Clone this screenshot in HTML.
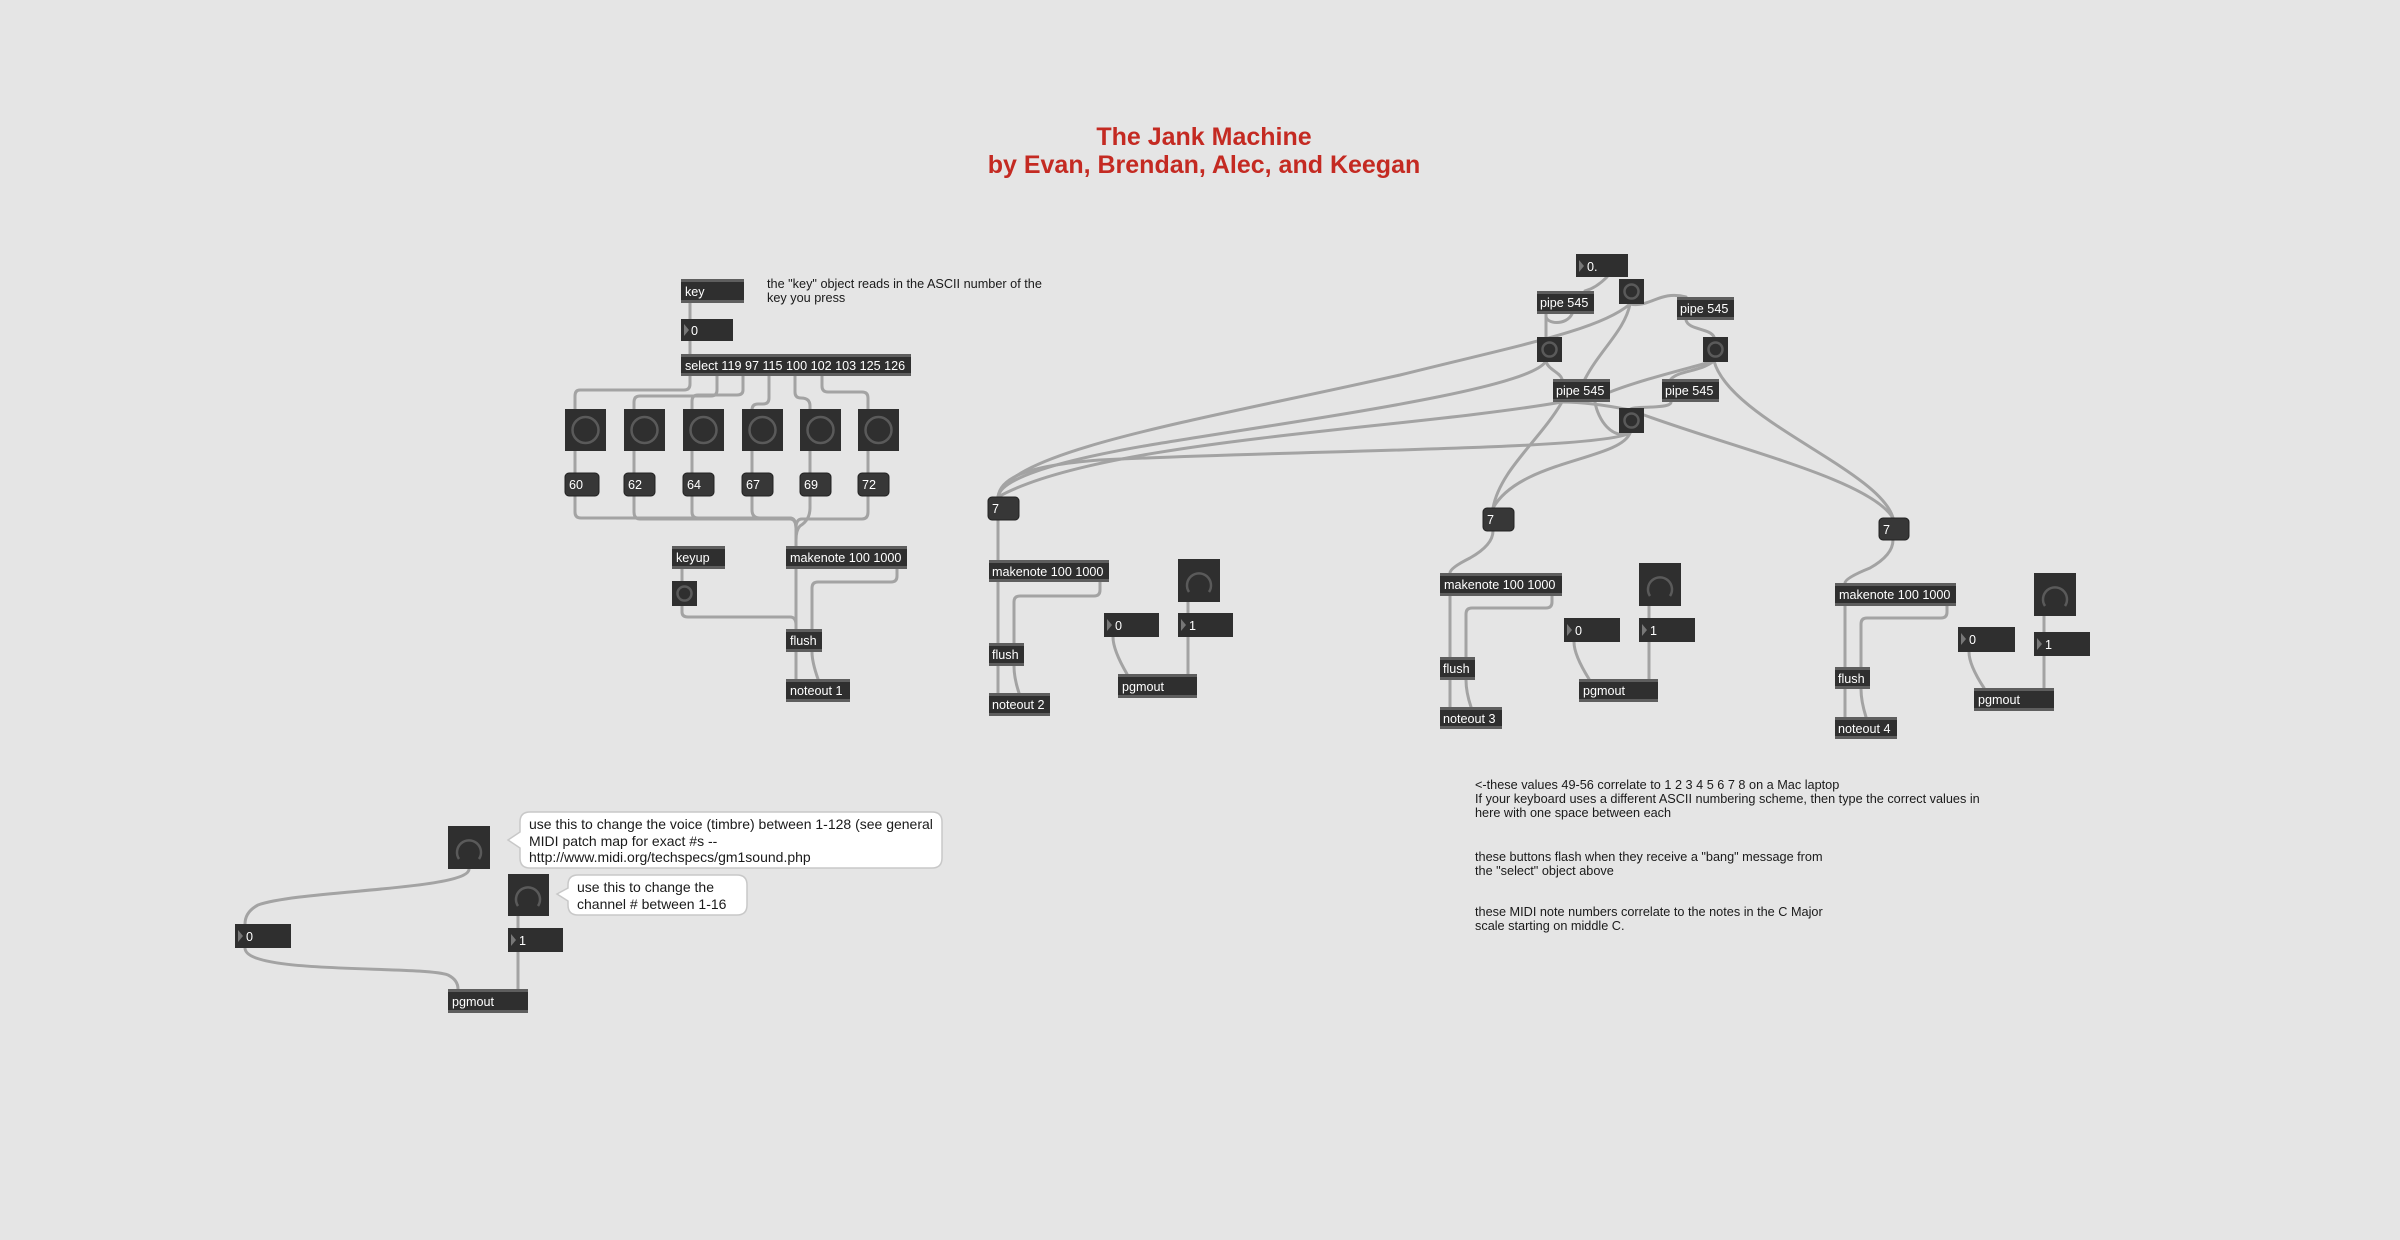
<!DOCTYPE html>
<html><head><meta charset="utf-8"><style>
html,body{margin:0;padding:0;background:#e5e5e5;}
svg{display:block;font-family:"Liberation Sans",Arial,sans-serif;}
.o{fill:#2f2f2f}
.b{fill:#5e5e5e}
.t{fill:#fff;font-size:12.6px}
.c{fill:#1a1a1a;font-size:12.7px}
.w{fill:none;stroke:#a3a3a3;stroke-width:3;stroke-linecap:round}
.r{fill:none;stroke:#5a5a5a;stroke-width:2.5}
.m{fill:#373737;stroke:#222;stroke-width:1}
.tri{fill:#777}
</style></head><body>
<svg width="2400" height="1240" viewBox="0 0 2400 1240" xmlns="http://www.w3.org/2000/svg">
<rect width="2400" height="1240" fill="#e5e5e5"/>
<text x="1204" y="145" text-anchor="middle" font-weight="bold" font-size="25" fill="#c42a22">The Jank Machine</text>
<text x="1204" y="173" text-anchor="middle" font-weight="bold" font-size="25" fill="#c42a22">by Evan, Brendan, Alec, and Keegan</text>

<g class="w">
<path d="M690 303 V319"/>
<path d="M690 341 V354"/>
<path d="M690 376 V384 Q690 390 684 390 H580 Q575 390 575 396 V409"/>
<path d="M717 376 V390 Q717 396 711 396 H640 Q634 396 634 402 V409"/>
<path d="M743 376 V390 Q743 395 737 395 H698 Q692 395 692 401 V409"/>
<path d="M769 376 V398 Q769 404 763 404 H758 Q752 404 752 410"/>
<path d="M795 376 V392 Q795 398 801 398 Q810 398 810 406 V409"/>
<path d="M822 376 V386 Q822 392 828 392 H862 Q868 392 868 398 V409"/>
<path d="M575 451 V473"/><path d="M634 451 V473"/><path d="M692 451 V473"/>
<path d="M752 451 V473"/><path d="M810 451 V473"/><path d="M868 451 V473"/>
<path d="M575 496 V512 Q575 518 581 518 H790 Q796 518 796 528 V546"/>
<path d="M634 496 V512 Q634 519 640 519 H790 Q796 519 796 528"/>
<path d="M692 496 V512 Q692 518 698 518 H790"/>
<path d="M752 496 V510 Q752 518 760 518 H788 Q796 518 796 528"/>
<path d="M810 496 V508 Q810 520 800 526 Q796 530 796 540"/>
<path d="M868 496 V512 Q868 519 862 519 H802 Q796 519 796 528"/>
<path d="M682 569 V581"/>
<path d="M682 606 V612 Q682 617 688 617 H790 Q796 617 796 625 V629"/>
<path d="M796 569 V629"/>
<path d="M897 569 V576 Q897 582 891 582 H818 Q812 582 812 588 V629"/>
<path d="M796 652 V679"/>
<path d="M812 652 Q812 662 818 679"/>
<path d="M998 520 V560"/>
<path d="M998 582 V643"/>
<path d="M1100 582 V590 Q1100 596 1094 596 H1020 Q1014 596 1014 602 V643"/>
<path d="M998 666 V693"/>
<path d="M1014 666 Q1014 678 1019 693"/>
<path d="M1113 637 Q1113 650 1127 674"/>
<path d="M1188 602 V613"/><path d="M1188 637 V674"/>
<path d="M1493 531 Q1493 545 1470 558 Q1450 568 1450 573"/>
<path d="M1450 596 V657"/>
<path d="M1552 596 V602 Q1552 608 1546 608 H1472 Q1466 608 1466 614 V657"/>
<path d="M1450 680 V707"/>
<path d="M1466 680 Q1466 692 1471 707"/>
<path d="M1574 642 Q1574 655 1589 679"/>
<path d="M1649 606 V618"/><path d="M1649 642 V679"/>
<path d="M1893 540 Q1893 555 1870 568 Q1845 578 1845 583"/>
<path d="M1845 606 V667"/>
<path d="M1947 606 V612 Q1947 618 1941 618 H1867 Q1861 618 1861 624 V667"/>
<path d="M1845 689 V717"/>
<path d="M1861 689 Q1861 701 1866 717"/>
<path d="M1969 652 Q1969 665 1984 688"/>
<path d="M2044 616 V632"/><path d="M2044 656 V688"/>
<path d="M1607 277 Q1596 288 1585 291"/>
<path d="M1546 314 V337"/>
<path d="M1546 316 C1546 324 1566 326 1572 314"/>
<path d="M1630 304 C1650 308 1660 290 1686 297"/>
<path d="M1630 304 C1625 330 1600 350 1585 379"/>
<path d="M1630 304 C1600 330 1520 345 1400 375 C1200 420 1010 450 998 497"/>
<path d="M1546 361 C1548 370 1560 372 1562 379"/>
<path d="M1546 361 C1530 390 1300 420 1150 445 C1050 462 1000 480 998 497"/>
<path d="M1562 402 C1400 430 1100 440 998 497"/>
<path d="M1630 433 C1600 450 1300 450 1100 460 C1020 466 1000 480 998 497"/>
<path d="M1562 402 C1540 440 1500 470 1493 508"/>
<path d="M1630 433 C1620 460 1520 460 1493 508"/>
<path d="M1686 320 C1688 330 1710 328 1714 337"/>
<path d="M1714 361 C1700 372 1680 370 1671 379"/>
<path d="M1714 361 C1690 368 1640 380 1610 392"/>
<path d="M1714 361 C1730 420 1880 470 1893 518"/>
<path d="M1562 402 C1590 402 1620 408 1630 410"/>
<path d="M1671 402 C1671 410 1630 405 1630 410"/>
<path d="M1644 415 C1740 450 1870 480 1893 518"/>
<path d="M1630 433 C1612 440 1598 420 1595 402"/>
<path d="M469 869 C469 890 300 890 258 905 Q245 912 245 924"/>
<path d="M245 948 C245 975 420 965 448 975 Q458 980 458 989"/>
<path d="M518 916 V928"/><path d="M518 952 V989"/>
</g>

<g>
<rect class="o" x="681" y="279" width="63" height="24"/><rect class="b" x="681" y="279" width="63" height="3"/><rect class="b" x="681" y="300" width="63" height="3"/><text class="t" x="685" y="296">key</text>
<rect class="o" x="681" y="319" width="52" height="22"/><path class="tri" d="M684 324 L689 330 L684 336Z"/><text class="t" x="691" y="335">0</text>
<rect class="o" x="681" y="354" width="230" height="22"/><rect class="b" x="681" y="354" width="230" height="3"/><rect class="b" x="681" y="373" width="230" height="3"/><text class="t" x="685" y="370">select 119 97 115 100 102 103 125 126</text>
<rect class="o" x="672" y="546" width="53" height="23"/><rect class="b" x="672" y="546" width="53" height="3"/><rect class="b" x="672" y="566" width="53" height="3"/><text class="t" x="676" y="562">keyup</text>
<rect class="o" x="786" y="546" width="121" height="23"/><rect class="b" x="786" y="546" width="121" height="3"/><rect class="b" x="786" y="566" width="121" height="3"/><text class="t" x="790" y="562">makenote 100 1000</text>
<rect class="o" x="786" y="629" width="36" height="23"/><rect class="b" x="786" y="629" width="36" height="3"/><rect class="b" x="786" y="649" width="36" height="3"/><text class="t" x="790" y="645">flush</text>
<rect class="o" x="786" y="679" width="64" height="23"/><rect class="b" x="786" y="679" width="64" height="3"/><rect class="b" x="786" y="699" width="64" height="3"/><text class="t" x="790" y="695">noteout 1</text>

<rect class="o" x="989" y="560" width="120" height="22"/><rect class="b" x="989" y="560" width="120" height="3"/><rect class="b" x="989" y="579" width="120" height="3"/><text class="t" x="992" y="576">makenote 100 1000</text>
<rect class="o" x="989" y="643" width="35" height="23"/><rect class="b" x="989" y="643" width="35" height="3"/><rect class="b" x="989" y="663" width="35" height="3"/><text class="t" x="992" y="659">flush</text>
<rect class="o" x="989" y="693" width="61" height="23"/><rect class="b" x="989" y="693" width="61" height="3"/><rect class="b" x="989" y="713" width="61" height="3"/><text class="t" x="992" y="709">noteout 2</text>
<rect class="o" x="1104" y="613" width="55" height="24"/><path class="tri" d="M1107 619 L1112 625 L1107 631Z"/><text class="t" x="1115" y="630">0</text>
<rect class="o" x="1178" y="613" width="55" height="24"/><path class="tri" d="M1181 619 L1186 625 L1181 631Z"/><text class="t" x="1189" y="630">1</text>
<rect class="o" x="1118" y="674" width="79" height="24"/><rect class="b" x="1118" y="674" width="79" height="3"/><rect class="b" x="1118" y="695" width="79" height="3"/><text class="t" x="1122" y="691">pgmout</text>
<rect class="o" x="1178" y="559" width="42" height="43"/><path class="r" d="M1189 592 A12 12 0 1 1 1209 592"/>

<rect class="o" x="1440" y="573" width="122" height="23"/><rect class="b" x="1440" y="573" width="122" height="3"/><rect class="b" x="1440" y="593" width="122" height="3"/><text class="t" x="1444" y="589">makenote 100 1000</text>
<rect class="o" x="1440" y="657" width="35" height="23"/><rect class="b" x="1440" y="657" width="35" height="3"/><rect class="b" x="1440" y="677" width="35" height="3"/><text class="t" x="1443" y="673">flush</text>
<rect class="o" x="1440" y="707" width="62" height="22"/><rect class="b" x="1440" y="707" width="62" height="3"/><rect class="b" x="1440" y="726" width="62" height="3"/><text class="t" x="1443" y="723">noteout 3</text>
<rect class="o" x="1564" y="618" width="56" height="24"/><path class="tri" d="M1567 624 L1572 630 L1567 636Z"/><text class="t" x="1575" y="635">0</text>
<rect class="o" x="1639" y="618" width="56" height="24"/><path class="tri" d="M1642 624 L1647 630 L1642 636Z"/><text class="t" x="1650" y="635">1</text>
<rect class="o" x="1579" y="679" width="79" height="23"/><rect class="b" x="1579" y="679" width="79" height="3"/><rect class="b" x="1579" y="699" width="79" height="3"/><text class="t" x="1583" y="695">pgmout</text>
<rect class="o" x="1639" y="563" width="42" height="43"/><path class="r" d="M1650 596 A12 12 0 1 1 1670 596"/>

<rect class="o" x="1835" y="583" width="121" height="23"/><rect class="b" x="1835" y="583" width="121" height="3"/><rect class="b" x="1835" y="603" width="121" height="3"/><text class="t" x="1839" y="599">makenote 100 1000</text>
<rect class="o" x="1835" y="667" width="35" height="22"/><rect class="b" x="1835" y="667" width="35" height="3"/><rect class="b" x="1835" y="686" width="35" height="3"/><text class="t" x="1838" y="683">flush</text>
<rect class="o" x="1835" y="717" width="62" height="22"/><rect class="b" x="1835" y="717" width="62" height="3"/><rect class="b" x="1835" y="736" width="62" height="3"/><text class="t" x="1838" y="733">noteout 4</text>
<rect class="o" x="1958" y="627" width="57" height="25"/><path class="tri" d="M1961 633 L1966 639 L1961 645Z"/><text class="t" x="1969" y="644">0</text>
<rect class="o" x="2034" y="632" width="56" height="24"/><path class="tri" d="M2037 638 L2042 644 L2037 650Z"/><text class="t" x="2045" y="649">1</text>
<rect class="o" x="1974" y="688" width="80" height="23"/><rect class="b" x="1974" y="688" width="80" height="3"/><rect class="b" x="1974" y="708" width="80" height="3"/><text class="t" x="1978" y="704">pgmout</text>
<rect class="o" x="2034" y="573" width="42" height="43"/><path class="r" d="M2045 606 A12 12 0 1 1 2065 606"/>

<rect class="o" x="1576" y="254" width="52" height="23"/><path class="tri" d="M1579 260 L1584 266 L1579 272Z"/><text class="t" x="1587" y="271">0.</text>
<rect class="o" x="1537" y="291" width="57" height="23"/><rect class="b" x="1537" y="291" width="57" height="3"/><rect class="b" x="1537" y="311" width="57" height="3"/><text class="t" x="1540" y="307">pipe 545</text>
<rect class="o" x="1677" y="297" width="57" height="23"/><rect class="b" x="1677" y="297" width="57" height="3"/><rect class="b" x="1677" y="317" width="57" height="3"/><text class="t" x="1680" y="313">pipe 545</text>
<rect class="o" x="1553" y="379" width="57" height="23"/><rect class="b" x="1553" y="379" width="57" height="3"/><rect class="b" x="1553" y="399" width="57" height="3"/><text class="t" x="1556" y="395">pipe 545</text>
<rect class="o" x="1662" y="379" width="57" height="23"/><rect class="b" x="1662" y="379" width="57" height="3"/><rect class="b" x="1662" y="399" width="57" height="3"/><text class="t" x="1665" y="395">pipe 545</text>
<rect class="o" x="1619" y="279" width="25" height="25"/><circle class="r" cx="1631.5" cy="291.5" r="7"/>
<rect class="o" x="1537" y="337" width="25" height="25"/><circle class="r" cx="1549.5" cy="349.5" r="7"/>
<rect class="o" x="1703" y="337" width="25" height="25"/><circle class="r" cx="1715.5" cy="349.5" r="7"/>
<rect class="o" x="1619" y="408" width="25" height="25"/><circle class="r" cx="1631.5" cy="420.5" r="7"/>

<rect class="o" x="565" y="409" width="41" height="42"/><circle class="r" cx="585.5" cy="430" r="13"/>
<rect class="o" x="624" y="409" width="41" height="42"/><circle class="r" cx="644.5" cy="430" r="13"/>
<rect class="o" x="683" y="409" width="41" height="42"/><circle class="r" cx="703.5" cy="430" r="13"/>
<rect class="o" x="742" y="409" width="41" height="42"/><circle class="r" cx="762.5" cy="430" r="13"/>
<rect class="o" x="800" y="409" width="41" height="42"/><circle class="r" cx="820.5" cy="430" r="13"/>
<rect class="o" x="858" y="409" width="41" height="42"/><circle class="r" cx="878.5" cy="430" r="13"/>
<rect class="o" x="672" y="581" width="25" height="25"/><circle class="r" cx="684.5" cy="593.5" r="7"/>

<rect class="m" x="565" y="473" width="34" height="23" rx="4"/><text class="t" x="569" y="489">60</text>
<rect class="m" x="624" y="473" width="31" height="23" rx="4"/><text class="t" x="628" y="489">62</text>
<rect class="m" x="683" y="473" width="31" height="23" rx="4"/><text class="t" x="687" y="489">64</text>
<rect class="m" x="742" y="473" width="31" height="23" rx="4"/><text class="t" x="746" y="489">67</text>
<rect class="m" x="800" y="473" width="31" height="23" rx="4"/><text class="t" x="804" y="489">69</text>
<rect class="m" x="858" y="473" width="31" height="23" rx="4"/><text class="t" x="862" y="489">72</text>
<rect class="m" x="988" y="497" width="31" height="23" rx="4"/><text class="t" x="992" y="513">7</text>
<rect class="m" x="1483" y="508" width="31" height="23" rx="4"/><text class="t" x="1487" y="524">7</text>
<rect class="m" x="1879" y="518" width="30" height="22" rx="4"/><text class="t" x="1883" y="534">7</text>

<rect class="o" x="448" y="826" width="42" height="43"/><path class="r" d="M459 859 A12 12 0 1 1 479 859"/>
<rect class="o" x="508" y="874" width="41" height="42"/><path class="r" d="M518 906 A12 12 0 1 1 538 906"/>
<rect class="o" x="235" y="924" width="56" height="24"/><path class="tri" d="M238 930 L243 936 L238 942Z"/><text class="t" x="246" y="941">0</text>
<rect class="o" x="508" y="928" width="55" height="24"/><path class="tri" d="M511 934 L516 940 L511 946Z"/><text class="t" x="519" y="945">1</text>
<rect class="o" x="448" y="989" width="80" height="24"/><rect class="b" x="448" y="989" width="80" height="3"/><rect class="b" x="448" y="1010" width="80" height="3"/><text class="t" x="452" y="1006">pgmout</text>

<path d="M530 812 H932 Q942 812 942 822 V858 Q942 868 932 868 H530 Q520 868 520 858 V848 L508 840 L520 832 V822 Q520 812 530 812Z" fill="#fff" stroke="#c8c8c8" stroke-width="1.5"/>
<text font-size="14" fill="#1a1a1a"><tspan x="529" y="829">use this to change the voice (timbre) between 1-128 (see general</tspan><tspan x="529" y="846">MIDI patch map for exact #s --</tspan><tspan x="529" y="862">http://www.midi.org/techspecs/gm1sound.php</tspan></text>
<path d="M578 875 H737 Q747 875 747 885 V905 Q747 915 737 915 H578 Q568 915 568 905 V901 L557 894 L568 888 V885 Q568 875 578 875Z" fill="#fff" stroke="#c8c8c8" stroke-width="1.5"/>
<text font-size="14" fill="#1a1a1a"><tspan x="577" y="892">use this to change the</tspan><tspan x="577" y="909">channel # between 1-16</tspan></text>
</g>

<text class="c"><tspan x="767" y="288">the "key" object reads in the ASCII number of the</tspan><tspan x="767" y="302">key you press</tspan></text>
<text class="c"><tspan x="1475" y="789">&lt;-these values 49-56 correlate to 1 2 3 4 5 6 7 8 on a Mac laptop</tspan><tspan x="1475" y="803">If your keyboard uses a different ASCII numbering scheme, then type the correct values in</tspan><tspan x="1475" y="817">here with one space between each</tspan></text>
<text class="c"><tspan x="1475" y="861">these buttons flash when they receive a "bang" message from</tspan><tspan x="1475" y="875">the "select" object above</tspan></text>
<text class="c"><tspan x="1475" y="916">these MIDI note numbers correlate to the notes in the C Major</tspan><tspan x="1475" y="930">scale starting on middle C.</tspan></text>
</svg>
</body></html>
